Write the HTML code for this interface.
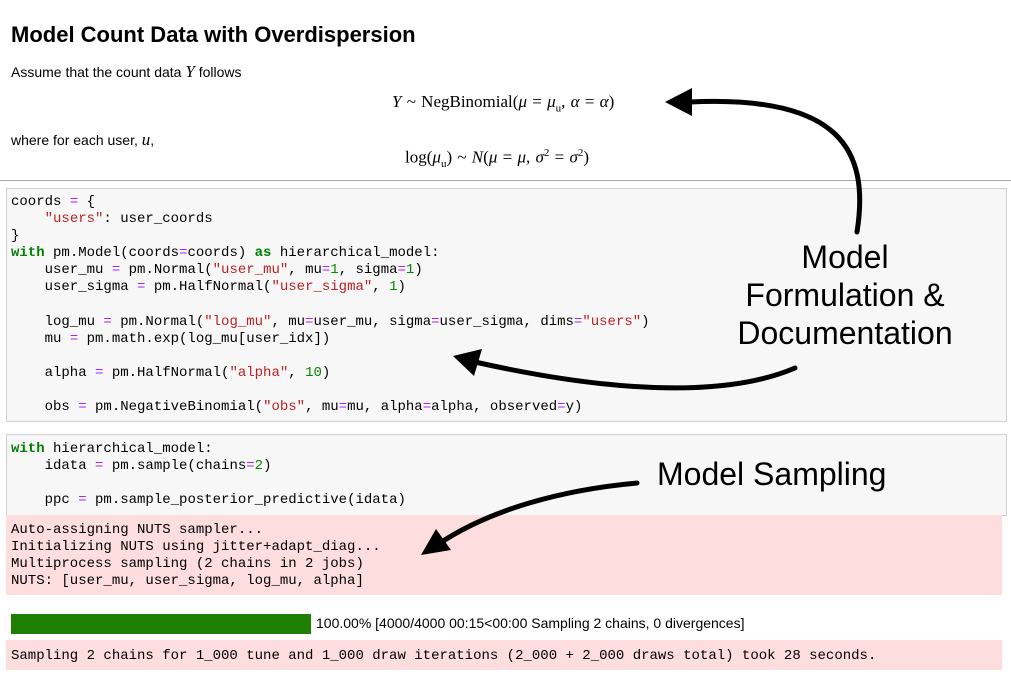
<!DOCTYPE html>
<html><head><style>
body{margin:0;width:1011px;height:674px;background:#fff;position:relative;overflow:hidden;font-family:"Liberation Sans",sans-serif;}
.a{position:absolute;}
.code{font-family:"Liberation Mono",monospace;font-size:14px;line-height:17.1px;white-space:pre;color:#000;}
.k{color:#008000;font-weight:bold}.s{color:#ba2121}.o{color:#aa22ff}.n{color:#080}
.m{font-family:"Liberation Serif",serif;font-size:17px;word-spacing:1px;}
</style></head><body>
<div class="a" style="left:11px;top:22px;font-size:22px;font-weight:bold;">Model Count Data with Overdispersion</div>
<div class="a" style="left:11px;top:62px;font-size:14px;">Assume that the count data <i class="m">Y</i> follows</div>
<div class="a m" style="left:392px;top:92px;"><i>Y</i> ~ NegBinomial(<i>μ</i> = <i>μ</i><sub style="font-size:11px">u</sub>, <i>α</i> = <i>α</i>)</div>
<div class="a" style="left:11px;top:130px;font-size:14px;">where for each user, <i class="m">u</i>,</div>
<div class="a m" style="left:405px;top:147px;">log(<i>μ</i><sub style="font-size:11px">u</sub>) ~ <i>N</i>(<i>μ</i> = <i>μ</i>, <i>σ</i><sup style="font-size:11px">2</sup> = <i>σ</i><sup style="font-size:11px">2</sup>)</div>
<div class="a" style="left:0;top:180px;width:1011px;height:1px;background:#aaa"></div>
<div class="a" style="left:6px;top:188px;width:999px;height:232px;background:#f7f7f7;border:1px solid #cfcfcf"></div>
<div class="a code" style="left:11px;top:194px;">coords <span class="o">=</span> {
    <span class="s">"users"</span>: user_coords
}
<span class="k">with</span> pm.Model(coords<span class="o">=</span>coords) <span class="k">as</span> hierarchical_model:
    user_mu <span class="o">=</span> pm.Normal(<span class="s">"user_mu"</span>, mu<span class="o">=</span><span class="n">1</span>, sigma<span class="o">=</span><span class="n">1</span>)
    user_sigma <span class="o">=</span> pm.HalfNormal(<span class="s">"user_sigma"</span>, <span class="n">1</span>)

    log_mu <span class="o">=</span> pm.Normal(<span class="s">"log_mu"</span>, mu<span class="o">=</span>user_mu, sigma<span class="o">=</span>user_sigma, dims<span class="o">=</span><span class="s">"users"</span>)
    mu <span class="o">=</span> pm.math.exp(log_mu[user_idx])

    alpha <span class="o">=</span> pm.HalfNormal(<span class="s">"alpha"</span>, <span class="n">10</span>)

    obs <span class="o">=</span> pm.NegativeBinomial(<span class="s">"obs"</span>, mu<span class="o">=</span>mu, alpha<span class="o">=</span>alpha, observed<span class="o">=</span>y)</div>
<div class="a" style="left:6px;top:434px;width:999px;height:80px;background:#f7f7f7;border:1px solid #cfcfcf"></div>
<div class="a code" style="left:11px;top:441px;"><span class="k">with</span> hierarchical_model:
    idata <span class="o">=</span> pm.sample(chains<span class="o">=</span><span class="n">2</span>)

    ppc <span class="o">=</span> pm.sample_posterior_predictive(idata)</div>
<div class="a" style="left:6px;top:515px;width:996px;height:80px;background:#fddddd"></div>
<div class="a code" style="left:11px;top:522px;">Auto-assigning NUTS sampler...
Initializing NUTS using jitter+adapt_diag...
Multiprocess sampling (2 chains in 2 jobs)
NUTS: [user_mu, user_sigma, log_mu, alpha]</div>
<div class="a" style="left:11px;top:614px;width:300px;height:20px;background:#1f7f00"></div>
<div class="a" style="left:316px;top:615px;font-size:14px;">100.00% [4000/4000 00:15&lt;00:00 Sampling 2 chains, 0 divergences]</div>
<div class="a" style="left:6px;top:640px;width:996px;height:30px;background:#fddddd"></div>
<div class="a code" style="left:11px;top:648px;">Sampling 2 chains for 1_000 tune and 1_000 draw iterations (2_000 + 2_000 draws total) took 28 seconds.</div>
<div class="a" style="left:695px;top:238px;width:300px;text-align:center;font-size:32px;line-height:38px;">Model<br>Formulation &amp;<br>Documentation</div>
<div class="a" style="left:657px;top:456px;font-size:32px;">Model Sampling</div>
<svg class="a" style="left:0;top:0" width="1011" height="674">
<g fill="none" stroke="#000" stroke-width="5" stroke-linecap="round">
<path d="M857 232 C870 150 840 95 690 102"/>
<path d="M795 368 C720 400 600 390 475 362"/>
<path d="M637 483 C560 490 490 510 440 543"/>
</g>
<polygon points="665,102 692,88 692,116"/>
<polygon points="453,356 482,349 474,376"/>
<polygon points="421,555 436,529 451,550"/>
</svg>
</body></html>
